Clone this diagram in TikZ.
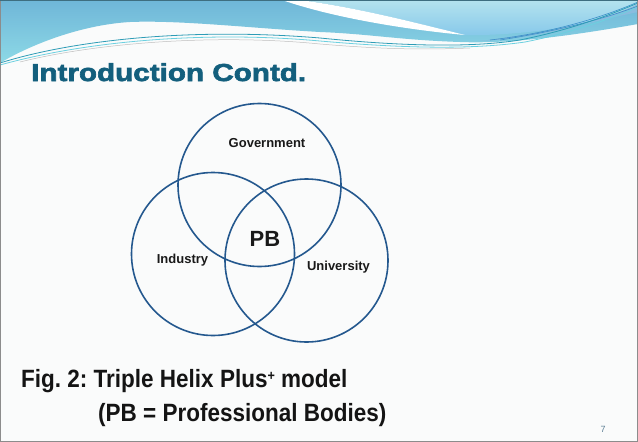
\documentclass[tikz,border=0pt]{standalone}
\usepackage{fontspec}
\setmainfont{Liberation Sans}
\frenchspacing
\newfontfamily\titlefont{Liberation Sans}[UprightFont=* Bold, FakeStretch=1.21, FakeBold=2.6]
\newfontfamily\capfont{Liberation Sans}[FakeStretch=0.9]
\definecolor{circ}{HTML}{24588E}
\definecolor{titleblue}{HTML}{135F7D}
\definecolor{bandtop}{HTML}{6FB6D8}
\definecolor{bandbot}{HTML}{8DD9E6}
\definecolor{rtop}{HTML}{B4E3EE}
\definecolor{rbot}{HTML}{86C8EA}
\definecolor{lineteal}{HTML}{2E9CB6}
\definecolor{linecyan}{HTML}{6CD0E0}
\definecolor{lineblue}{HTML}{3A8FC8}
\definecolor{bodybg}{HTML}{FAFBFB}
\definecolor{frametop}{HTML}{3E6E80}
\definecolor{pagenum}{HTML}{5F8096}
\begin{document}
\begin{tikzpicture}[x=1pt,y=-1pt,
  venn/.style={circle, draw=circ, line width=1.6pt, minimum size=163pt, inner sep=0pt},
  lbl/.style={font=\bfseries\fontsize{13}{15}\selectfont, text=black!90, anchor=base, inner sep=0pt},
  captext/.style={font=\capfont\bfseries\fontsize{25}{30}\selectfont, text=black!92, anchor=base west, inner sep=0pt}]
\useasboundingbox (0,0) rectangle (638,442);
\fill[bodybg] (0,0) rectangle (638,442);
% band (left, blue)
\shade[top color=bandtop, bottom color=bandbot]
  (0,0) -- (638,0) -- (638,24) .. controls (570,36) and (510,44) .. (460,42)
  .. controls (400,40) and (370,34) .. (320,32)
  .. controls (250,28) and (180,20) .. (130,22)
  .. controls (80,25) and (30,45) .. (0,63) -- cycle;
% right light region
\shade[top color=rtop, bottom color=rbot]
  (300,0) -- (638,0) -- (638,9) .. controls (590,26) and (520,36) .. (465,35)
  .. controls (420,24) and (360,8) .. (300,0) -- cycle;
% white stripe
\fill[white] (300,0) .. controls (360,8) and (420,24) .. (465,35)
  .. controls (420,31) and (340,20) .. (282,0) -- cycle;
% right swoosh
\fill[lineblue!60] (638,4) .. controls (600,22) and (540,38) .. (480,41)
  .. controls (540,34) and (600,20) .. (638,12) -- cycle;
\draw[lineblue, line width=0.6pt] (490,40) .. controls (560,32) and (610,14) .. (638,2);
\draw[lineblue, line width=0.6pt] (500,40) .. controls (565,30) and (612,16) .. (638,6);
% thin lines
\draw[lineteal, line width=0.8pt] (0,63) .. controls (80,38) and (200,28) .. (320,38)
  .. controls (400,46) and (470,48) .. (520,40) .. controls (570,30) and (610,15) .. (638,3);
\draw[linecyan, line width=0.8pt] (0,65) .. controls (90,40) and (210,31) .. (320,41)
  .. controls (400,48) and (470,50) .. (525,42) .. controls (575,32) and (612,18) .. (638,7);
\draw[black!25, line width=0.5pt] (20,62) .. controls (100,42) and (220,34) .. (320,44)
  .. controls (380,49) and (420,50) .. (470,48);
% frame
\draw[black!45, line width=1pt] (0.5,0.5) rectangle (637.5,441.5);
\draw[frametop, line width=1pt] (0,0.5) -- (638,0.5);
% title
\node[font=\titlefont\fontsize{24.5}{28}\selectfont, text=titleblue, anchor=base west, inner sep=0pt] (title) at (31,81) {Introduction Contd.};
% venn
\node[venn] (gov) at (259.5,185) {};
\node[venn] (ind) at (213,254) {};
\node[venn] (uni) at (306.5,260.5) {};
\node[lbl] (govl) at (267,147) {Government};
\node[lbl] (indl) at (182.5,263) {Industry};
\node[lbl] (unil) at (338.5,270) {University};
\node[lbl, font=\bfseries\fontsize{22}{26}\selectfont] (pb) at (265,246) {PB};
% caption
\node[captext] (cap1) at (21,387) {Fig. 2: Triple Helix Plus\raisebox{7pt}{\fontsize{14}{14}\selectfont +} model};
\node[captext] (cap2) at (98,421) {(PB = Professional Bodies)};
\node[font=\fontsize{9}{10}\selectfont, text=pagenum, anchor=base, inner sep=0pt] (pg) at (603,432) {7};
\end{tikzpicture}
\end{document}
